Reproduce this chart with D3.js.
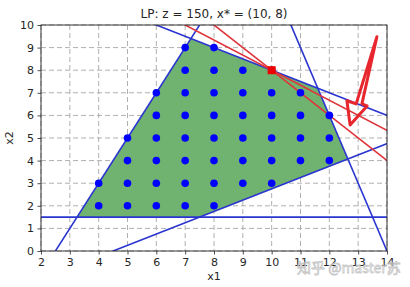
<!DOCTYPE html>
<html>
<head>
<meta charset="utf-8">
<script src="https://cdn.jsdelivr.net/npm/d3@7"></script>
<style>
  html, body { margin: 0; padding: 0; background: #fff; }
  svg { display: block; }
  .tick text { font-family: "DejaVu Sans", sans-serif; font-size: 11px; fill: #262626; }
</style>
</head>
<body>
<svg id="chart" width="410" height="287"></svg>
<script>
// ---- data ----
const xTicks = [2,3,4,5,6,7,8,9,10,11,12,13,14];
const yTicks = [0,1,2,3,4,5,6,7,8,9,10];
const titleText = "LP: z = 150, x* = (10, 8)";
// blue constraint lines a1*x1 + a2*x2 = b
const blueA1 = [2, 0, 1, 3, 1];
const blueA2 = [-1, 1, -2, 1, 2];
const blueB  = [5, 1.5, 4.5, 42, 26];
// red lines through optimum
const redA1 = [2, 1];
const redA2 = [3, 1];
const redB  = [44, 18];
// feasible region vertices
const regionX1 = [3.25, 7.2, 11.6, 12.643, 7.5];
const regionX2 = [1.5, 9.4, 7.2, 4.071, 1.5];
// integer feasible points
const ptsX1 = [4,5,6,7,8, 4,5,6,7,8,9,10, 5,6,7,8,9,10,11,12, 5,6,7,8,9,10,11,12, 6,7,8,9,10,11,12, 6,7,8,9,10,11, 7,8,9,10, 7,8];
const ptsX2 = [2,2,2,2,2, 3,3,3,3,3,3,3, 4,4,4,4,4,4,4,4, 5,5,5,5,5,5,5,5, 6,6,6,6,6,6,6, 7,7,7,7,7,7, 8,8,8,8, 9,9];
const optX1 = [10];
const optX2 = [8];
// annotation arrow (data coordinates)
const arrowX1 = [13.65, 12.93, 12.61, 12.72, 13.31, 13.13];
const arrowX2 = [9.48, 6.51, 6.65, 5.58, 6.42, 6.51];

// ---- chart ----
const svg = d3.select("#chart");
const L = 41, R = 387, T = 25, B = 251;
const x = d3.scaleLinear().domain([2, 14]).range([L, R]);
const y = d3.scaleLinear().domain([0, 10]).range([B, T]);

svg.append("defs").append("clipPath").attr("id", "clip")
  .append("rect").attr("x", L).attr("y", T).attr("width", R - L).attr("height", B - T);

// grid
const grid = svg.append("g");
grid.selectAll(".gx").data(xTicks).enter().append("line")
  .attr("x1", d => x(d)).attr("x2", d => x(d)).attr("y1", T).attr("y2", B)
  .attr("stroke", "#b0b0b0").attr("stroke-width", 1).attr("stroke-dasharray", "5,3");
grid.selectAll(".gy").data(yTicks).enter().append("line")
  .attr("y1", d => y(d)).attr("y2", d => y(d)).attr("x1", L).attr("x2", R)
  .attr("stroke", "#b0b0b0").attr("stroke-width", 1).attr("stroke-dasharray", "5,3");

const plot = svg.append("g").attr("clip-path", "url(#clip)");

// region
plot.append("polygon")
  .attr("points", regionX1.map((v, i) => x(v) + "," + y(regionX2[i])).join(" "))
  .attr("fill", "rgb(112,178,112)").attr("stroke", "none");

function lineEnds(a1, a2, b) {
  if (a2 === 0) { const xv = b / a1; return [[xv, -1], [xv, 11]]; }
  const xs = [0, 16];
  return xs.map(v => [v, (b - a1 * v) / a2]);
}
function drawLines(A1, A2, Bv, color, w) {
  A1.forEach((a1, i) => {
    const e = lineEnds(a1, A2[i], Bv[i]);
    plot.append("line")
      .attr("x1", x(e[0][0])).attr("y1", y(e[0][1]))
      .attr("x2", x(e[1][0])).attr("y2", y(e[1][1]))
      .attr("stroke", color).attr("stroke-width", w);
  });
}
drawLines(blueA1, blueA2, blueB, "#2a35d0", 1.6);
drawLines(redA1, redA2, redB, "#e0333a", 1.6);

// points
plot.selectAll(".pt").data(ptsX1).enter().append("circle")
  .attr("cx", (d) => x(d)).attr("cy", (d, i) => y(ptsX2[i])).attr("r", 3.8)
  .attr("fill", "#0000ff");
plot.selectAll(".opt").data(optX1).enter().append("rect")
  .attr("x", d => x(d) - 4).attr("y", (d, i) => y(optX2[i]) - 4)
  .attr("width", 8).attr("height", 8).attr("fill", "#ee0000");

// axes
const xAxis = svg.append("g").attr("transform", `translate(0,${B})`)
  .call(d3.axisBottom(x).tickValues(xTicks).tickSize(3.5).tickPadding(3.5).tickFormat(d3.format("d")));
const yAxis = svg.append("g").attr("transform", `translate(${L},0)`)
  .call(d3.axisLeft(y).tickValues(yTicks).tickSize(3.5).tickPadding(3.5).tickFormat(d3.format("d")));
[xAxis, yAxis].forEach(g => {
  g.select(".domain").remove();
  g.selectAll(".tick line").attr("stroke", "#222").attr("stroke-width", 0.8);
});
svg.append("rect").attr("x", L).attr("y", T).attr("width", R - L).attr("height", B - T)
  .attr("fill", "none").attr("stroke", "#222").attr("stroke-width", 0.9);

// labels
svg.append("text").attr("x", (L + R) / 2).attr("y", 18).attr("text-anchor", "middle")
  .attr("font-family", "DejaVu Sans, sans-serif").attr("font-size", 12).attr("fill", "#262626")
  .text(titleText);
svg.append("text").attr("x", (L + R) / 2).attr("y", 280).attr("text-anchor", "middle")
  .attr("font-family", "DejaVu Sans, sans-serif").attr("font-size", 11).attr("fill", "#262626")
  .text("x1");
svg.append("text").attr("transform", `translate(13,${(T + B) / 2}) rotate(-90)`).attr("text-anchor", "middle")
  .attr("font-family", "DejaVu Sans, sans-serif").attr("font-size", 11).attr("fill", "#262626")
  .text("x2");

// arrow annotation
svg.append("path")
  .attr("d", d3.line().x(d => x(d[0])).y(d => y(d[1]))(arrowX1.map((v, i) => [v, arrowX2[i]])) + "Z")
  .attr("fill", "none").attr("stroke", "#e8262e").attr("stroke-width", 3)
  .attr("stroke-linejoin", "round");

// watermark
svg.append("text").attr("x", 297).attr("y", 273)
  .attr("font-family", "Noto Sans CJK SC, sans-serif").attr("font-size", 14)
  .attr("fill", "#ffffff").attr("fill-opacity", 0.6)
  .attr("stroke", "#b8b8b8").attr("stroke-width", 0.8).attr("stroke-opacity", 0.8)
  .text("知乎 @master苏");
</script>
</body>
</html>
